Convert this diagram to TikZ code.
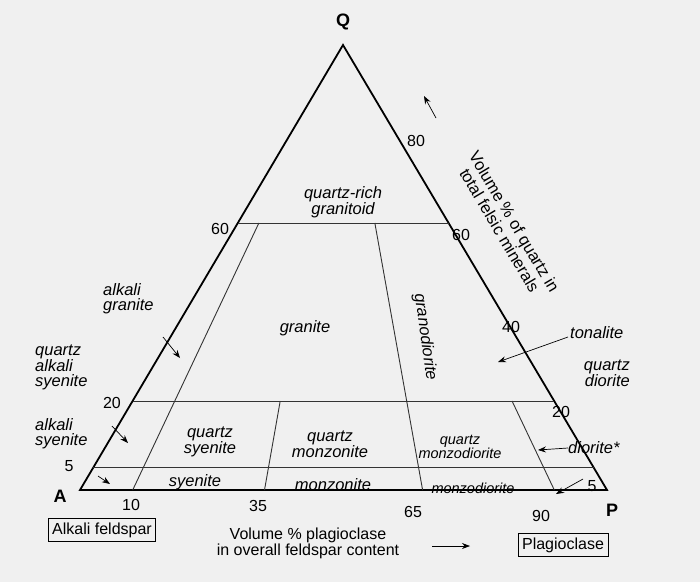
\documentclass[tikz,border=0pt]{standalone}
\usepackage{fontspec}
\setmainfont{Liberation Sans}
\usetikzlibrary{arrows.meta,calc}
\begin{document}
\begin{tikzpicture}[x=1pt,y=-1pt,
  lbl/.style={font=\fontsize{16.5}{15.5}\selectfont\itshape,align=left,inner sep=0pt},
  num/.style={font=\fontsize{16}{16}\selectfont,inner sep=1pt},
  inner/.style={line width=0.9pt,black!80},
  arr/.style={-{Stealth[length=8pt,width=6pt]},line width=0.7pt}]
\fill[black!6] (0,0) rectangle (700,582);
\useasboundingbox (0,0) rectangle (700,582);
\coordinate (A) at (80,490); \coordinate (P) at (607,490); \coordinate (Q) at (343,45);
\draw[line width=1.8pt,line join=miter] (A) -- (P) -- (Q) -- cycle;
\draw[inner] ($(A)!0.6!(Q)$) -- ($(P)!0.6!(Q)$);
\draw[inner] ($(A)!0.2!(Q)$) -- ($(P)!0.2!(Q)$);
\draw[inner] ($(A)!0.05!(Q)$) -- ($(P)!0.05!(Q)$);
\coordinate (b10) at (132.7,490); \coordinate (b35) at (264.5,490);
\coordinate (b65) at (422.6,490); \coordinate (b90) at (554.3,490);
\draw[inner] (b10) -- ($(b10)!0.6!(Q)$);
\draw[inner] (b35) -- ($(b35)!0.2!(Q)$);
\draw[inner] (b65) -- ($(b65)!0.6!(Q)$);
\draw[inner] (b90) -- ($(b90)!0.2!(Q)$);
\node[font=\fontsize{18}{18}\selectfont\bfseries] (nQ) at (343,22) {Q};
\node[font=\fontsize{18}{18}\selectfont\bfseries] (nA) at (60,496) {A};
\node[font=\fontsize{18}{18}\selectfont\bfseries] (nP) at (612,510) {P};
\node[num] (n80) at (416,141) {80};
\node[num] (n60r) at (461,235) {60};
\node[num] (n40) at (511,327) {40};
\node[num] (n20r) at (561,412) {20};
\node[num] (n5r) at (592,486) {5};
\node[num] (n60l) at (220,229) {60};
\node[num] (n20l) at (112,403) {20};
\node[num] (n5l) at (69,466) {5};
\node[num] (n10) at (131,505) {10};
\node[num] (n35) at (258,506) {35};
\node[num] (n65) at (413,512) {65};
\node[num] (n90) at (541,516) {90};
\node[lbl,align=center] (qrg) at (343,202) {quartz-rich\\granitoid};
\node[lbl] (gran) at (305,328) {granite};
\node[lbl,rotate=-82] (grd) at (425,337) {granodiorite};
\node[lbl,align=center] (qsy) at (210,442) {quartz\\syenite};
\node[lbl,align=center] (qmz) at (330,444) {quartz\\monzonite};
\node[lbl,align=center,font=\fontsize{14.5}{14}\selectfont\itshape] (qmd) at (460,447) {quartz\\monzodiorite};
\node[lbl] (sy) at (195,482) {syenite};
\node[lbl] (mz) at (333,485) {monzonite};
\node[lbl,font=\fontsize{14.5}{14}\selectfont\itshape] (mzd) at (473,488) {monzodiorite};
\node[lbl,anchor=north west] (agr) at (103,283) {alkali\\granite};
\node[lbl,anchor=north west] (qas) at (35,345) {quartz\\alkali\\syenite};
\node[lbl,anchor=north west] (as) at (35,418) {alkali\\syenite};
\node[lbl,anchor=west] (ton) at (570,333) {tonalite};
\node[lbl,align=right,anchor=north east] (qdi) at (630,360) {quartz\\diorite};
\node[lbl,anchor=west] (dio) at (568,448) {diorite*};
\node[lbl,align=center,rotate=-59.3,font=\fontsize{16.5}{17}\selectfont] (vol) at (507,226) {Volume \% of quartz in\\total felsic minerals};
\node[draw,line width=0.8pt,font=\fontsize{16}{16}\selectfont,inner sep=4pt] (af) at (102,530) {Alkali feldspar};
\node[draw,line width=0.8pt,font=\fontsize{16}{16}\selectfont,inner sep=4pt] (pl) at (563,545) {Plagioclase};
\node[font=\fontsize{16}{16}\selectfont,align=center,inner sep=0pt] (vp) at (308,543) {Volume \% plagioclase\\in overall feldspar content};
\coordinate (h1) at (432,546); \coordinate (h2) at (470,546);
\draw[arr] (h1) -- (h2);
\coordinate (u1) at (436,118); \coordinate (u2) at (424,96);
\draw[arr] (u1) -- (u2);
\coordinate (ag1) at (163,337); \coordinate (ag2) at (180,358);
\draw[arr] (ag1) -- (ag2);
\coordinate (as1) at (112,426); \coordinate (as2) at (128,443);
\draw[arr] (as1) -- (as2);
\coordinate (s1) at (98,476); \coordinate (s2) at (110,484);
\draw[arr] (s1) -- (s2);
\coordinate (t1) at (568,337); \coordinate (t2) at (498,362);
\draw[arr] (t1) -- (t2);
\coordinate (d2) at (538,450);
\draw[arr] (dio.west) -- (d2);
\coordinate (f1) at (583,479); \coordinate (f2) at (556,494);
\draw[arr] (f1) -- (f2);
\end{tikzpicture}
\end{document}
